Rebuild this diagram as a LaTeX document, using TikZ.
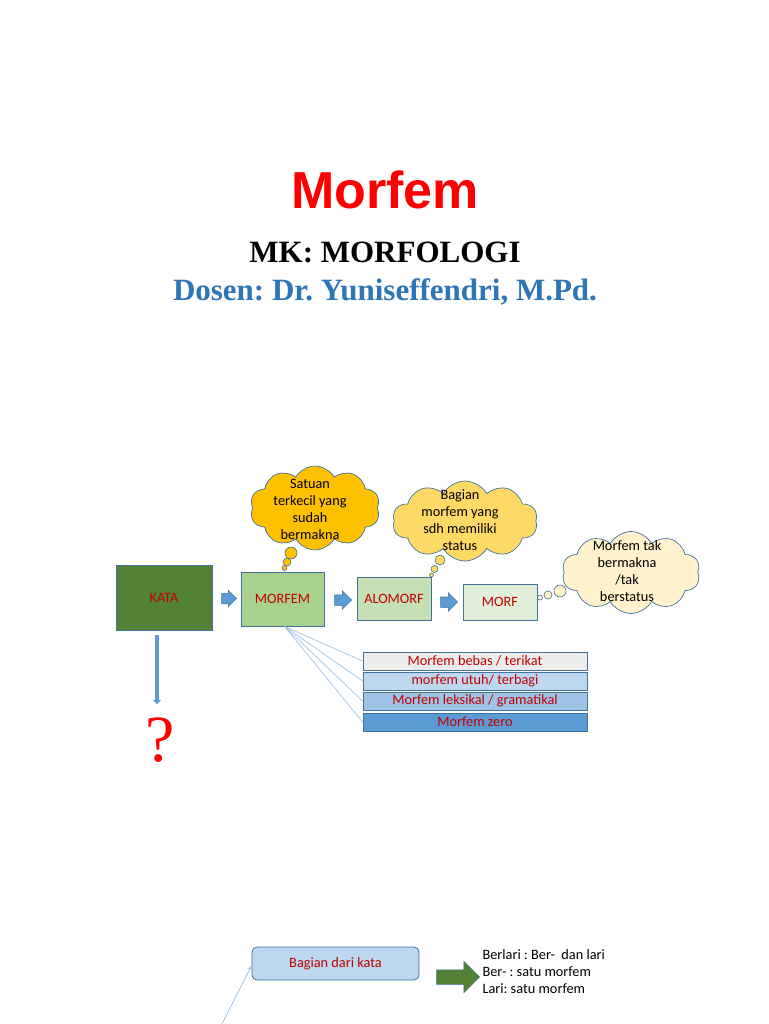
\documentclass[tikz,border=0pt]{standalone}
\usepackage{fontspec}
\setmainfont{Carlito}
\newfontfamily\headfont{Liberation Sans}
\newfontfamily\dosenfont{Liberation Serif}
\usetikzlibrary{shapes.symbols,shapes.arrows,arrows.meta}
\frenchspacing

\definecolor{boxline}{HTML}{41719C}
\definecolor{txtred}{HTML}{C00000}
\definecolor{katagreen}{HTML}{548235}
\definecolor{morfgreen}{HTML}{A9D18E}
\definecolor{alogreen}{HTML}{C5E0B4}
\definecolor{palegreen}{HTML}{E2F0D9}
\definecolor{arrowblue}{HTML}{5B9BD5}
\definecolor{lineblue}{HTML}{9DC3E6}
\definecolor{lightblue}{HTML}{BDD7EE}
\definecolor{dosenblue}{HTML}{2E75B6}
\definecolor{cloudA}{HTML}{FFC000}
\definecolor{cloudB}{HTML}{FFD966}
\definecolor{cloudC}{HTML}{FFF2CC}

\begin{document}
\begin{tikzpicture}[x=1pt, y=-1pt,
  box/.style={draw=boxline, line width=0.8pt, inner sep=0pt, text=txtred, font=\fontsize{14.3}{17}\selectfont},
  listbox/.style={box, minimum width=224pt, minimum height=18pt},
  thought/.style={cloud, cloud puffs=10, cloud puff arc=120, draw=boxline, line width=0.7pt, inner sep=0pt},
  cloudtext/.style={align=center, inner sep=0pt, font=\fontsize{14.3}{17}\selectfont},
  bubble/.style={circle, draw=boxline, line width=0.6pt, inner sep=0pt},
  blockarrow/.style={single arrow, draw=boxline, line width=0.5pt, fill=arrowblue, inner xsep=0pt,
    inner ysep=5pt, single arrow head extend=3pt, minimum height=15pt},
  spoke/.style={draw=lineblue, line width=0.7pt}]

\useasboundingbox (0,0) rectangle (768,1024);

%% title
\node (title) at (385,190) {\headfont\bfseries\fontsize{52}{54}\selectfont\color{red}Morfem};
\node (mk) at (385,252) {\dosenfont\bfseries\fontsize{31}{33}\selectfont MK: MORFOLOGI};
\node (dosen) at (385,292) {\dosenfont\bfseries\fontsize{31}{33}\selectfont\color{dosenblue}Dosen: Dr. Yuniseffendri, M.Pd.};

%% chain of boxes
\node[box, fill=katagreen, minimum width=96pt, minimum height=65pt] (kata) at (164,597.5) {KATA};
\node[box, fill=morfgreen, minimum width=83pt, minimum height=54pt] (morfem) at (282.5,599) {MORFEM};
\node[box, fill=alogreen, minimum width=74pt, minimum height=43pt] (alomorf) at (394,598.5) {ALOMORF};
\node[box, fill=palegreen, minimum width=74pt, minimum height=36pt] (morf) at (500,602) {MORF};

\node[blockarrow] (arrA) at (226.5,598.5) {};
\node[blockarrow, minimum height=17pt, single arrow head extend=4pt] (arrB) at (340.5,600) {};
\node[blockarrow, minimum height=17pt, single arrow head extend=4pt] (arrC) at (446.5,602) {};

%% clouds
\node[thought, fill=cloudA, minimum width=130pt, minimum height=84pt] (satuan) at (315,508) {};
\node[cloudtext] (satuan-t) at (310,509.5) {Satuan\\terkecil yang\\sudah\\bermakna};
\node[bubble, fill=cloudA, minimum size=12pt] (sa1) at (291,553) {};
\node[bubble, fill=cloudA, minimum size=8pt] (sa2) at (287,562) {};
\node[bubble, fill=cloudA, minimum size=5pt] (sa3) at (284.5,568) {};

\node[thought, fill=cloudB, minimum width=145pt, minimum height=80pt] (bagian) at (465,521) {};
\node[cloudtext] (bagian-t) at (460,520.5) {Bagian\\morfem yang\\sdh memiliki\\status};
\node[bubble, fill=cloudB, minimum size=10pt] (ba1) at (440,560) {};
\node[bubble, fill=cloudB, minimum size=7pt] (ba2) at (434.5,569) {};
\node[bubble, fill=cloudB, minimum size=4pt] (ba3) at (431.5,575) {};

\node[thought, fill=cloudC, minimum width=138pt, minimum height=82pt] (taktak) at (631,572.5) {};
\node[cloudtext] (taktak-t) at (627,571.5) {Morfem tak\\bermakna\\/tak\\berstatus};
\node[bubble, fill=cloudC, minimum size=12pt] (ta1) at (560,591) {};
\node[bubble, fill=cloudC, minimum size=8pt] (ta2) at (548,595) {};
\node[bubble, fill=cloudC, minimum size=5pt] (ta3) at (540,597.5) {};

%% kinds of morfem
\node[listbox, fill=gray!15] (bebas) at (475,661) {Morfem bebas / terikat};
\node[listbox, fill=lightblue] (utuh) at (475,681) {morfem utuh/ terbagi};
\node[listbox, fill=lineblue] (leksikal) at (475,701) {Morfem leksikal / gramatikal};
\node[listbox, fill=arrowblue] (zero) at (475,722) {Morfem zero};

\foreach \k in {bebas,utuh,leksikal,zero}
  \draw[spoke] ([xshift=2pt]morfem.south) -- (\k.west);

%% question
\node (quest) at (160,740) {\dosenfont\fontsize{66}{66}\selectfont\color{red}?};
\coordinate (downend) at (157,704);
\draw[arrowblue, line width=4pt, -{Triangle[width=8pt,length=4pt]}] ([xshift=-7pt,yshift=-5pt]kata.south) -- (downend);

%% bottom
\node[box, fill=lightblue, rounded corners=5pt, minimum width=167pt, minimum height=33pt] (dari) at (335.5,963.5) {Bagian dari kata};
\coordinate (lowstart) at (222,1024);
\draw[lineblue, line width=0.8pt, -{Stealth[length=5pt,width=4pt]}] (lowstart) -- ([yshift=-2pt]dari.west);

\node[single arrow, draw=boxline, line width=0.5pt, fill=katagreen, inner xsep=0pt, inner ysep=7pt,
  single arrow head extend=8.5pt, minimum height=43pt] (greenarr) at (454.5,977) {};
\node[anchor=west, align=left, font=\fontsize{14.3}{17}\selectfont] (contoh) at (479,972)
{Berlari : Ber-\ \ dan lari\\Ber- : satu morfem\\Lari: satu morfem};

\end{tikzpicture}
\end{document}
